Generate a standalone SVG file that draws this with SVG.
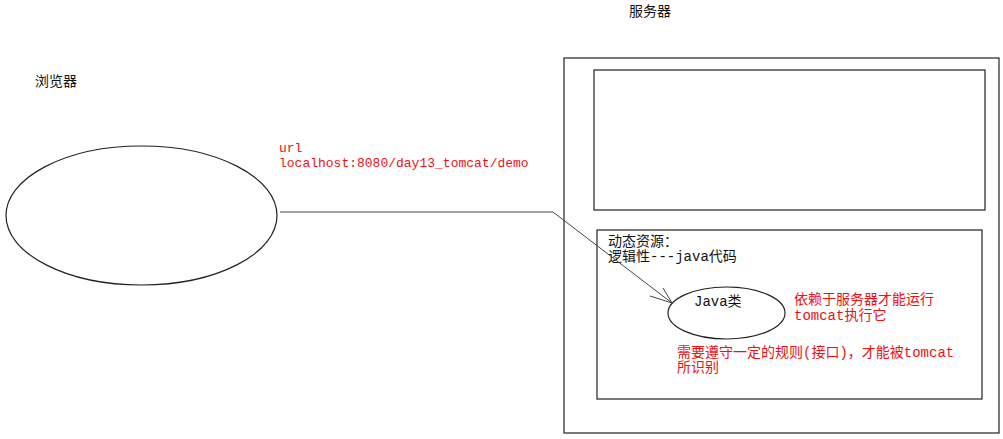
<svg xmlns="http://www.w3.org/2000/svg" width="1003" height="439" viewBox="0 0 1003 439">
<style>
.shape{fill:none;stroke:#222;stroke-width:1.2}
.lbl{font-family:"Noto Sans CJK SC","Noto Sans",sans-serif;font-size:14px;fill:#111}
.mono{font-family:"Liberation Mono","Noto Sans CJK SC",monospace;font-size:14px;fill:#111}
.red{fill:#ee1111}
.conn{fill:none;stroke:#444;stroke-width:1}
</style>
<rect width="1003" height="439" fill="#fff"/>
<g id="browser">
<text class="lbl" x="35" y="86">浏览器</text>
<ellipse class="shape" cx="141.5" cy="215.5" rx="135.5" ry="69.5"/>
</g>
<g id="server">
<text class="lbl" x="629" y="16">服务器</text>
<rect class="shape" x="564" y="58" width="435" height="375"/>
</g>
<g id="static-box">
<rect class="shape" x="594" y="70" width="391" height="140"/>
</g>
<g id="dynamic-box">
<rect class="shape" x="597" y="230" width="385" height="169"/>
<text class="mono" x="608" y="246">动态资源：</text>
<text class="mono" x="608" y="261">逻辑性---java代码</text>
<text class="mono red" x="677" y="357">需要遵守一定的规则(接口)，才能被tomcat</text>
<text class="mono red" x="677" y="372">所识别</text>
</g>
<g id="java-class">
<ellipse class="shape" cx="726.5" cy="313" rx="58.5" ry="26"/>
<text class="mono" x="694" y="306">Java类</text>
<text class="mono red" x="794" y="304">依赖于服务器才能运行</text>
<text class="mono red" x="794" y="320">tomcat执行它</text>
</g>
<g id="connectors">
<text class="mono red" x="279" y="152" style="font-size:13px">url</text>
<text class="mono red" x="279" y="167" style="font-size:13px">localhost:8080/day13_tomcat/demo</text>
<path class="conn" d="M280 212 H553 L672 303"/>
<path class="conn" d="M663 288 L672 303 L650 296"/>
</g>
</svg>
